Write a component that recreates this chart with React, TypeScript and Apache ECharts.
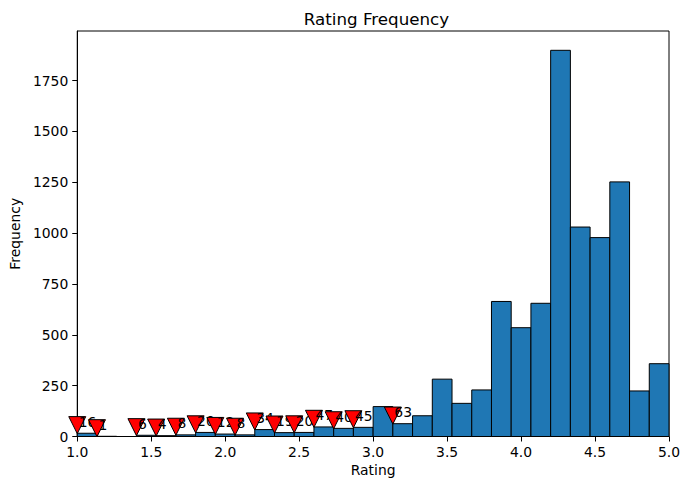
import React, { useEffect, useRef } from "react";
import * as echarts from "echarts";

const ratingMin = 1.0;
const ratingMax = 5.0;
const binCount = 30;
const counts = [16, 1, 0, 6, 4, 8, 20, 12, 8, 34, 19, 20, 47, 40, 45, 147, 63, 102, 282, 163, 229, 664, 535, 655, 1899, 1030, 978, 1252, 224, 358];
const xTicks = [1.0, 1.5, 2.0, 2.5, 3.0, 3.5, 4.0, 4.5, 5.0];
const yTicks = [0, 250, 500, 750, 1000, 1250, 1500, 1750];
const annotateBelow = 100;
const markerLift = 40;

const FONT = "DejaVu Sans";

export default function App() {
  const ref = useRef<HTMLDivElement>(null);
  useEffect(() => {
    if (!ref.current) return;
    const chart = echarts.init(ref.current, null, { renderer: "svg" });
    const w = (ratingMax - ratingMin) / binCount;
    const bins = counts.map((c, i) => [ratingMin + i * w, ratingMin + (i + 1) * w, c]);
    const marks = counts
      .map((c, i) => [ratingMin + i * w, c + markerLift, c])
      .filter((d) => d[2] > 0 && d[2] < annotateBelow);
    const yMax = Math.max(...counts) * 1.05;
    const half = 8.5;
    chart.setOption({
      animation: false,
      backgroundColor: "#fff",
      textStyle: { fontFamily: FONT },
      title: {
        text: "Rating Frequency",
        left: 371.5,
        top: 5,
        textAlign: "center",
        textStyle: { fontFamily: FONT, fontSize: 16.7, fontWeight: "normal", color: "#000" },
      },
      grid: {
        left: 74,
        right: 21,
        top: 31,
        bottom: 53.5,
        show: true,
        borderColor: "#000",
        borderWidth: 1,
        containLabel: false,
      },
      xAxis: {
        type: "value",
        min: ratingMin,
        max: ratingMax,
        interval: 0.5,
        name: "Rating",
        nameLocation: "middle",
        nameGap: 26,
        nameTextStyle: { fontFamily: FONT, fontSize: 13.9, color: "#000" },
        axisLine: { show: true, onZero: false, lineStyle: { color: "#000", width: 1 } },
        axisTick: { show: true, length: 5, lineStyle: { color: "#000" }, customValues: xTicks },
        axisLabel: {
          color: "#000",
          fontFamily: FONT,
          fontSize: 13.9,
          margin: 8,
          customValues: xTicks,
          formatter: (v: number) => v.toFixed(1),
        },
        splitLine: { show: false },
      },
      yAxis: {
        type: "value",
        min: 0,
        max: yMax,
        interval: 250,
        name: "Frequency",
        nameLocation: "middle",
        nameRotate: 90,
        nameGap: 50,
        nameTextStyle: { fontFamily: FONT, fontSize: 13.9, color: "#000" },
        axisLine: { show: true, lineStyle: { color: "#000", width: 1 } },
        axisTick: { show: true, length: 5, lineStyle: { color: "#000" }, customValues: yTicks },
        axisLabel: {
          color: "#000",
          fontFamily: FONT,
          fontSize: 13.9,
          margin: 9,
          customValues: yTicks,
          formatter: (v: number) => String(v),
        },
        splitLine: { show: false },
      },
      series: [
        {
          type: "custom",
          data: bins,
          encode: { x: [0, 1], y: 2 },
          renderItem: (params: any, api: any) => {
            const s = api.value(0);
            const e = api.value(1);
            const c = api.value(2);
            const p0 = api.coord([s, 0]);
            const p1 = api.coord([e, c]);
            return {
              type: "rect",
              shape: { x: p0[0], y: p1[1], width: p1[0] - p0[0], height: p0[1] - p1[1] },
              style: { fill: "#1f77b4", stroke: "#000", lineWidth: 1 },
            };
          },
          z: 2,
        },
        {
          type: "custom",
          data: marks,
          encode: { x: 0, y: 1 },
          clip: false,
          renderItem: (params: any, api: any) => {
            const p = api.coord([api.value(0), api.value(1)]);
            const i = params.dataIndex;
            return {
              type: "group",
              children: [
                {
                  type: "polygon",
                  z2: 2 * i,
                  shape: {
                    points: [
                      [p[0] - half, p[1] - half],
                      [p[0] + half, p[1] - half],
                      [p[0], p[1] + half],
                    ],
                  },
                  style: { fill: "#ff0000", stroke: "#000", lineWidth: 1 },
                },
                {
                  type: "text",
                  z2: 2 * i + 1,
                  x: p[0] + 1.5,
                  y: p[1] + 3.5,
                  style: {
                    text: String(api.value(2)),
                    fill: "#000",
                    font: `13.9px "${FONT}"`,
                    align: "left",
                    verticalAlign: "bottom",
                  },
                },
              ],
            };
          },
          z: 4,
        },
      ],
    });
    return () => chart.dispose();
  }, []);
  return <div ref={ref} style={{ width: 690, height: 490, position: "absolute", left: 0, top: 0 }} />;
}
